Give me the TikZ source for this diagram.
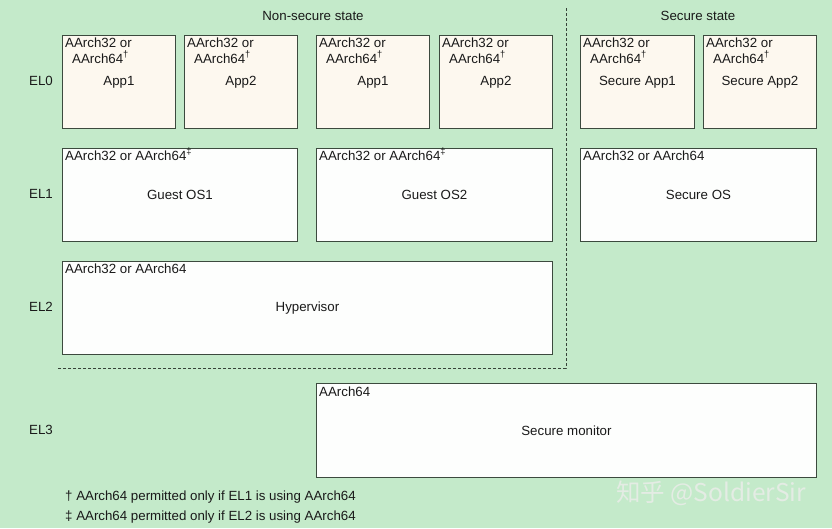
\documentclass[tikz,border=0pt]{standalone}
\usepackage{fontspec}
\setmainfont{Liberation Sans}
\newfontfamily\cjkfont{Noto Sans CJK SC}
\definecolor{bggreen}{HTML}{C4EACA}
\definecolor{appfill}{HTML}{FDF8EF}
\definecolor{osfill}{HTML}{FDFEFD}
\definecolor{edge}{HTML}{3C4A3E}
\definecolor{txt}{HTML}{1A1A1A}
\definecolor{wm}{HTML}{E4ECE4}
\tikzset{
  lbl/.style={font=\fontsize{13.3}{16}\selectfont, text=txt, inner sep=0pt},
  boxbase/.style={draw=edge, line width=0.9pt, anchor=north west, inner sep=0pt, font=\fontsize{13.3}{16}\selectfont, text=txt},
  appbox/.style={boxbase, fill=appfill, minimum width=113pt, minimum height=93pt},
  osbox/.style={boxbase, fill=osfill, minimum height=93pt},
  tag/.style={lbl, anchor=base west},
  sep/.style={draw=edge!90!black, line width=0.8pt, dash pattern=on 3pt off 2pt},
}
\begin{document}
\begin{tikzpicture}[x=1pt,y=-1pt]
\fill[bggreen] (0,0) rectangle (832,528);
\useasboundingbox (0,0) rectangle (832,528);

% headings
\node[lbl, anchor=base] (ns) at (313,20) {Non-secure state};
\node[lbl, anchor=base] (ss) at (698,20) {Secure state};

% EL labels
\node[lbl] (el0) at (41,81) {EL0};
\node[lbl] (el1) at (41,194) {EL1};
\node[lbl] (el2) at (41,307) {EL2};
\node[lbl] (el3) at (41,430) {EL3};

% EL0 apps
\node[appbox] (a1) at (62,35) {App1};
\node[appbox] (a2) at (184,35) {App2};
\node[appbox] (a3) at (316,35) {App1};
\node[appbox] (a4) at (439,35) {App2};
\node[appbox, minimum width=114pt] (a5) at (580,35) {Secure App1};
\node[appbox] (a6) at (703,35) {Secure App2};
\foreach \b in {a1,a2,a3,a4,a5,a6}{
  \node[tag] (\b t1) at ([shift={(3,12)}]\b.north west) {AArch32 or};
  \node[tag] (\b t2) at ([shift={(10,28)}]\b.north west) {AArch64\textsuperscript{†}};
}

% EL1
\node[osbox, minimum width=235pt] (g1) at (62,148) {Guest OS1};
\node[osbox, minimum width=236pt] (g2) at (316,148) {Guest OS2};
\node[osbox, minimum width=236pt] (sos) at (580,148) {Secure OS};
\node[tag] (g1t) at ([shift={(3,12)}]g1.north west) {AArch32 or AArch64\textsuperscript{‡}};
\node[tag] (g2t) at ([shift={(3,12)}]g2.north west) {AArch32 or AArch64\textsuperscript{‡}};
\node[tag] (sost) at ([shift={(3,12)}]sos.north west) {AArch32 or AArch64};

% EL2
\node[osbox, minimum width=490pt] (hyp) at (62,261) {Hypervisor};
\node[tag] (hypt) at ([shift={(3,12)}]hyp.north west) {AArch32 or AArch64};

% EL3
\node[osbox, minimum width=500pt, minimum height=94pt] (mon) at (316,383) {Secure monitor};
\node[tag] (mont) at ([shift={(3,13)}]mon.north west) {AArch64};

% separators
\coordinate (vtop) at (566,8);
\coordinate (corner) at (566,368);
\coordinate (hleft) at (57,368);
\draw[sep] (vtop) -- (corner) -- (hleft);

% footnotes
\node[tag] (f1) at (65,500) {† AArch64 permitted only if EL1 is using AArch64};
\node[tag] (f2) at (65,520) {‡ AArch64 permitted only if EL2 is using AArch64};

% watermark
\node[anchor=base west, inner sep=0pt, text=wm, font=\cjkfont\fontsize{24.5}{28}\selectfont] (wmt) at (616,501) {知乎 @SoldierSir};
\end{tikzpicture}
\end{document}
